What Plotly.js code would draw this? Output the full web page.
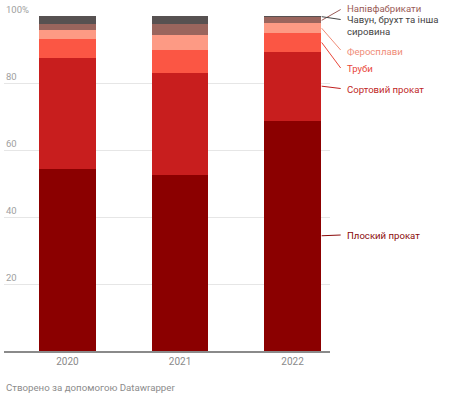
<!DOCTYPE html>
<html>
<head>
<meta charset="utf-8">
<script src="https://cdn.plot.ly/plotly-3.0.1.min.js"></script>
<style>html,body{margin:0;padding:0;background:#fff;}#chart{width:474px;height:396px;}</style>
</head>
<body>
<div id="chart"></div>
<script>
// ---- data ----
const years = ['2020', '2021', '2022'];
const seriesNames = ['Плоский прокат', 'Сортовий прокат', 'Труби', 'Феросплави', 'Напівфабрикати', 'Чавун, брухт та інша сировина'];
const flat      = [54.2, 52.4, 68.8];
const longProd  = [33.4, 30.7, 20.5];
const pipes     = [5.6, 6.8, 5.6];
const ferro     = [2.5, 4.4, 2.9];
const semi      = [1.8, 3.4, 1.8];
const pigIron   = [2.5, 2.3, 0.4];
const yTicks      = [20, 40, 60, 80, 100];
const yTickLabels = ['20', '40', '60', '80', '100%'];
const labelTexts = ['Плоский прокат', 'Сортовий прокат', 'Труби', 'Феросплави', 'Напівфабрикати', 'Чавун, брухт та інша<br>сировина'];
const footer = 'Створено за допомогою Datawrapper';

// ---- styles ----
const segColors  = ['#8b0000', '#c81e1e', '#fb5644', '#fd9a84', '#9a655d', '#575151'];
const labColors  = ['#8b0a0a', '#c01f1f', '#e9473a', '#f08c78', '#9a5b57', '#444444'];
const FONT = 'Roboto, "Noto Sans", sans-serif';

const series = [flat, longProd, pipes, ferro, semi, pigIron];
const traces = series.map((vals, i) => ({
  type: 'bar',
  x: years,
  y: vals,
  name: seriesNames[i],
  width: 0.5,
  marker: { color: segColors[i], line: { width: 0 } },
  hoverinfo: 'x+y+name'
}));

const xRange = [-0.564, 2.333];
const yRange = [0, 100];
const plotW = 326;
const xToPaper = v => (v - xRange[0]) / (xRange[1] - xRange[0]);
const yToPaper = v => (v - yRange[0]) / (yRange[1] - yRange[0]);

// label layout positions (pixels from top of figure)
const plotTopPx = 16, plotBottomPx = 351;
const pxToPaperY = px => (plotBottomPx - px) / (plotBottomPx - plotTopPx);
const labelPx   = [235, 89.5, 69, 51.7, 8.5, 25];
const lineEndPx = [235, 88.5, 68, 50, 9.5, 19.5];
const lastIdx = years.length - 1;
const barRight = xToPaper(lastIdx + 0.25);
const labelX = barRight + 24 / plotW;
const lineEndX = barRight + 20 / plotW;

const annotations = [];
const shapes = [];
let cum = 0;
series.forEach((vals, i) => {
  const v = vals[lastIdx];
  const mid = cum + v / 2;
  cum += v;
  shapes.push({
    type: 'line', xref: 'paper', yref: 'paper',
    x0: barRight + 1 / plotW, y0: yToPaper(mid),
    x1: lineEndX, y1: pxToPaperY(lineEndPx[i]),
    line: { color: labColors[i], width: 1 }
  });
});
labelTexts.forEach((t, i) => {
  annotations.push({
    xref: 'paper', yref: 'paper', x: labelX, y: pxToPaperY(labelPx[i]),
    xanchor: 'left', yanchor: 'middle', align: 'left', showarrow: false, text: t,
    font: { family: FONT, size: 9.6, color: labColors[i] }
  });
});
yTicks.forEach((t, i) => {
  annotations.push({
    xref: 'paper', yref: 'y', x: 0, y: t, xanchor: 'left', yanchor: 'middle',
    yshift: 7, showarrow: false, text: yTickLabels[i],
    font: { family: FONT, size: 9.5, color: '#a0a0a0' }
  });
});
annotations.push({
  xref: 'paper', yref: 'paper', x: 0, y: pxToPaperY(387), xanchor: 'left', yanchor: 'middle',
  showarrow: false, text: footer, font: { family: FONT, size: 9.7, color: '#8c8c8c' }
});

const layout = {
  width: 474, height: 396,
  margin: { l: 4, r: 144, t: 16, b: 45, pad: 0 },
  barmode: 'stack',
  showlegend: false,
  paper_bgcolor: '#fff', plot_bgcolor: '#fff',
  font: { family: FONT },
  xaxis: {
    type: 'category', range: xRange, showgrid: false, zeroline: false,
    showline: true, linecolor: '#8a8a8a', linewidth: 1.5,
    ticks: '', tickfont: { family: FONT, size: 10, color: '#8a8a8a' },
    fixedrange: true
  },
  yaxis: {
    range: yRange, tickvals: yTicks, showticklabels: false,
    showgrid: true, gridcolor: '#e6e6e6', gridwidth: 1, zeroline: false,
    showline: false, ticks: '', fixedrange: true
  },
  annotations: annotations,
  shapes: shapes
};

Plotly.newPlot('chart', traces, layout, { displayModeBar: false, staticPlot: true });
</script>
</body>
</html>
